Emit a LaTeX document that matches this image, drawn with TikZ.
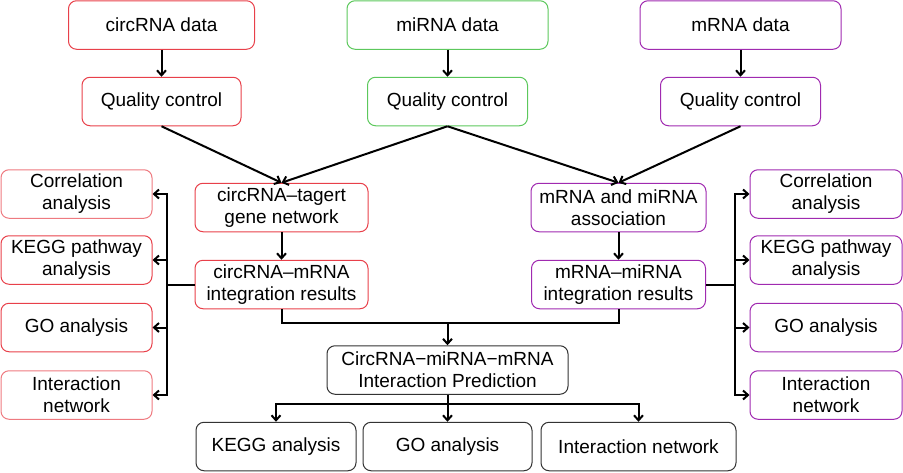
\documentclass[tikz,border=0pt]{standalone}
\usepackage{fontspec}
\setmainfont{Liberation Sans}
\usetikzlibrary{arrows.meta}
\definecolor{cred}{HTML}{E8404A}
\definecolor{clred}{HTML}{EE7A80}
\definecolor{cgreen}{HTML}{5CC85C}
\definecolor{cpurple}{HTML}{A02AB0}
\definecolor{cgray}{HTML}{333333}
\begin{document}
\begin{tikzpicture}[x=1pt,y=-1pt,
  box/.style={draw, rounded corners=8pt, line width=1pt, align=center, inner sep=0pt,
    text=black, font=\fontsize{19}{22}\selectfont, minimum height=48.5pt},
  rbox/.style={box, draw=cred},
  lrbox/.style={box, draw=clred},
  gbox/.style={box, draw=cgreen},
  pbox/.style={box, draw=cpurple},
  kbox/.style={box, draw=cgray},
  conn/.style={line width=2pt, -{Straight Barb[length=5pt,width=9pt]}},
  wire/.style={line width=2pt}]
\useasboundingbox (0,0) rectangle (903,472);
% top row
\node[rbox, minimum width=186pt] (cd) at (161.5,25) {circRNA data};
\node[gbox, minimum width=201pt] (md) at (447.5,25) {miRNA data};
\node[pbox, minimum width=201pt] (rd) at (740.5,25) {mRNA data};
% quality control
\node[rbox, minimum width=159pt] (q1) at (161.5,101.5) {Quality control};
\node[gbox, minimum width=160pt] (q2) at (447.5,101.5) {Quality control};
\node[pbox, minimum width=160pt] (q3) at (740.5,101.5) {Quality control};
% row 3
\node[rbox, minimum width=173pt] (net) at (281.5,207.5) {circRNA–tagert\\gene network};
\node[pbox, minimum width=175pt] (asc) at (618.5,207.5) {mRNA and miRNA\\association};
% row 4
\node[rbox, minimum width=173pt] (i1) at (281.5,284.5) {circRNA–mRNA\\integration results};
\node[pbox, minimum width=174pt] (i2) at (618.5,284.5) {mRNA–miRNA\\integration results};
% left column
\node[lrbox, minimum width=151pt] (lc) at (76.5,194) {Correlation\\analysis};
\node[rbox, minimum width=151pt] (lk) at (76.5,260) {KEGG pathway\\analysis};
\node[rbox, minimum width=151pt] (lg) at (76.5,327.5) {GO analysis};
\node[lrbox, minimum width=151pt] (li) at (76.5,395) {Interaction\\network};
% right column
\node[pbox, minimum width=152pt] (rc) at (826,194) {Correlation\\analysis};
\node[pbox, minimum width=152pt] (rk) at (826,260) {KEGG pathway\\analysis};
\node[pbox, minimum width=152pt] (rg) at (826,327.5) {GO analysis};
\node[pbox, minimum width=152pt] (ri) at (826,395) {Interaction\\network};
% center
\node[kbox, minimum width=241pt] (pr) at (447.5,370) {CircRNA−miRNA−mRNA\\Interaction Prediction};
% bottom
\node[kbox, minimum width=160pt] (bk) at (276,446.5) {KEGG analysis};
\node[kbox, minimum width=169pt] (bg) at (447.5,446.5) {GO analysis};
\node[kbox, minimum width=195pt] (bi) at (638.5,446.5) {Interaction network};
% coordinates
\coordinate (lb) at (167,284.5);
\coordinate (rb) at (735,284.5);
\coordinate (jc) at (447.5,323);
\coordinate (jb) at (447.5,404);
% connectors
\draw[conn] (cd) -- (q1);
\draw[conn] (md) -- (q2);
\draw[conn] (rd) -- (q3);
\draw[conn] (q1.south) -- (net.north);
\draw[conn] (q2.south) -- (net.north);
\draw[conn] (q2.south) -- (asc.north);
\draw[conn] (q3.south) -- (asc.north);
\draw[conn] (net) -- (i1);
\draw[conn] (asc) -- (i2);
\draw[wire] (i1.west) -- (lb);
\draw[conn] (lb) |- (lc.east);
\draw[conn] (lb) |- (lk.east);
\draw[conn] (lb) |- (lg.east);
\draw[conn] (lb) |- (li.east);
\draw[wire] (i2.east) -- (rb);
\draw[conn] (rb) |- (rc.west);
\draw[conn] (rb) |- (rk.west);
\draw[conn] (rb) |- (rg.west);
\draw[conn] (rb) |- (ri.west);
\draw[wire] (i1.south) |- (jc);
\draw[wire] (i2.south) |- (jc);
\draw[conn] (jc) -- (pr.north);
\draw[wire] (pr.south) -- (jb);
\draw[conn] (jb) -| (bk.north);
\draw[conn] (jb) -- (bg.north);
\draw[conn] (jb) -| (bi.north);
\end{tikzpicture}
\end{document}
